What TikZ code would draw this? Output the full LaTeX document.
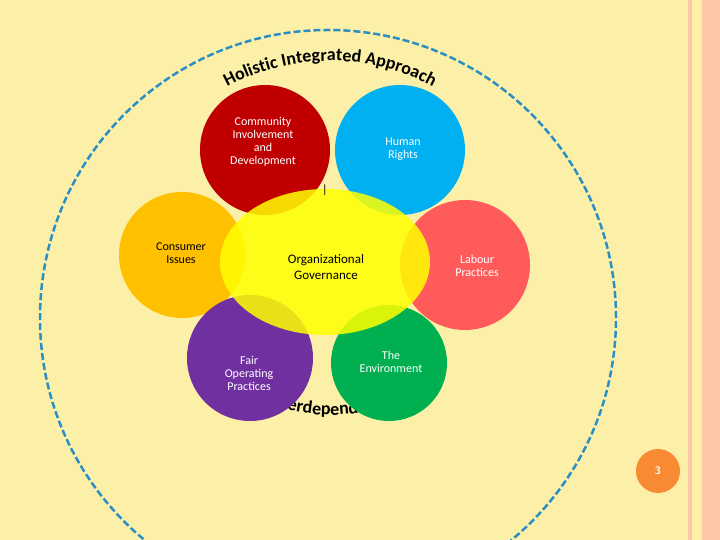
\documentclass[tikz,border=0pt]{standalone}
\usepackage{fontspec}
\setmainfont{Carlito}
\usetikzlibrary{decorations.text}
\definecolor{bg}{HTML}{FCF0A8}
\definecolor{pinkb}{HTML}{FDC6A6}
\definecolor{dashb}{HTML}{2B8FC4}
\definecolor{cred}{HTML}{C00000}
\definecolor{cblue}{HTML}{00B0F0}
\definecolor{corange}{HTML}{FFC000}
\definecolor{ccoral}{HTML}{FF5B5B}
\definecolor{cpurple}{HTML}{7030A0}
\definecolor{cgreen}{HTML}{00B050}
\definecolor{cyel}{HTML}{FFFF00}
\definecolor{cpage}{HTML}{F78A32}
\tikzset{
 bubble/.style={circle,minimum size=#1,inner sep=0pt},
 lbl/.style={align=center,font=\fontsize{12}{13}\selectfont,text=white},
 lblb/.style={align=center,font=\fontsize{12}{13}\selectfont,text=black}
}
\begin{document}
\begin{tikzpicture}[x=1pt,y=1pt]
\useasboundingbox (0,0) rectangle (720,540);
\fill[bg] (0,0) rectangle (720,540);
\fill[pinkb] (702,0) rectangle (720,540);
\fill[pinkb] (688,0) rectangle (692,540);
\begin{scope}
\clip (0,0) rectangle (720,540);
\draw[dashb,line width=2.5pt,dash pattern=on 7pt off 3pt] (328,222) circle[radius=288];
\end{scope}
\path[decorate,decoration={text along path,text align=center,
 text={|\fontsize{18}{18}\selectfont\bfseries|Holistic Integrated Approach}}]
 (330,262) ++(160:217) arc[start angle=160,end angle=20,radius=217];
\path[decorate,decoration={text along path,text align=center,
 text={|\fontsize{18}{18}\selectfont\bfseries|Interdependence}}]
 (330,310) ++(215:185) arc[start angle=215,end angle=325,radius=185];
\node[bubble=130,fill=cred] (cid) at (265,390) {};
\node[bubble=130,fill=cblue] (hr) at (400,390) {};
\node[bubble=126,fill=corange] (ci) at (182,285) {};
\node[bubble=130,fill=ccoral] (lp) at (465,275) {};
\node[bubble=126,fill=cpurple] (fop) at (250,182) {};
\node[bubble=116,fill=cgreen] (env) at (389,177) {};
\fill[cyel,opacity=0.85] (325,278) ellipse[x radius=105,y radius=73];
\node[lbl] (t1) at (263,398) {Community\\Involvement\\and\\Development};
\node[lbl] (t2) at (403,391) {Human\\Rights};
\node[lblb] (t3) at (181,287) {Consumer\\Issues};
\node[lbl] (t4) at (477,274) {Labour\\Practices};
\node[lbl] (t5) at (249,167) {Fair\\Operating\\Practices};
\node[lbl] (t6) at (391,178) {The\\Environment};
\node[lblb,font=\fontsize{13}{16}\selectfont] (og) at (326,273) {Organizational\\Governance};
\node[lblb] (bar) at (325,350) {|};
\node[circle,fill=cpage,minimum size=44pt,inner sep=0pt,text=white,font=\sffamily\bfseries\fontsize{11}{11}\selectfont] (pg) at (658,69) {3};
\end{tikzpicture}
\end{document}
